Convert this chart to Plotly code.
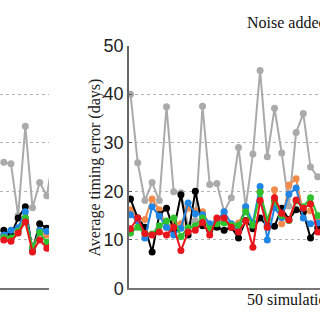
import plotly.graph_objects as go

# ---------------- data ----------------
left_sims = [43, 44, 45, 46, 47, 48, 49, 50]
left_gray = [26.0, 25.7, 15.0, 33.4, 16.6, 21.8, 19.1, 28.2]
left_black = [12.0, 11.0, 14.5, 16.8, 7.9, 13.3, 12.4, 12.7]
left_blue = [11.0, 12.0, 12.5, 15.8, 8.1, 12.0, 11.8, 11.0]
left_orange = [11.0, 10.5, 12.0, 14.5, 8.0, 11.5, 11.0, 11.5]
left_green = [10.5, 10.4, 11.8, 14.5, 8.5, 11.5, 9.5, 11.2]
left_red = [10.0, 9.7, 11.4, 13.7, 7.5, 10.0, 8.3, 10.6]

right_sims = list(range(1, 28))
right_gray = [40.0, 25.9, 18.1, 21.8, 18.1, 37.4, 19.9, 19.7, 13.0, 14.0, 37.5, 21.4, 21.6,
              15.8, 18.7, 29.0, 16.8, 27.7, 44.9, 27.1, 37.1, 27.9, 17.0, 32.1, 36.0, 25.0, 23.0]
right_black = [18.4, 14.5, 12.6, 7.5, 15.2, 16.5, 12.0, 19.3, 11.0, 20.0, 12.9, 12.0, 12.6,
               12.0, 12.6, 10.4, 14.0, 12.3, 14.5, 12.9, 12.8, 16.5, 14.2, 16.2, 15.8, 10.4, 12.5]
right_blue = [15.2, 13.9, 10.4, 16.8, 14.9, 12.6, 11.0, 12.4, 17.6, 15.4, 15.2, 13.3, 13.9,
              15.8, 13.3, 12.0, 16.8, 13.6, 21.0, 10.0, 16.6, 14.6, 19.4, 20.7, 14.5, 13.3, 13.5]
right_orange = [16.2, 14.5, 14.2, 18.4, 16.2, 12.6, 13.5, 13.3, 16.5, 16.0, 15.8, 13.0, 13.9,
                14.0, 13.0, 13.5, 16.2, 13.0, 20.0, 12.5, 20.3, 13.3, 21.3, 22.6, 15.5, 16.0, 14.0]
right_green = [11.4, 12.6, 11.3, 11.2, 12.9, 13.9, 14.5, 10.7, 12.5, 12.9, 14.5, 12.3, 13.3,
               13.5, 13.0, 13.0, 15.8, 13.0, 19.8, 14.2, 18.0, 15.0, 14.0, 18.0, 16.8, 18.7, 15.0]
right_red = [12.3, 14.5, 11.3, 11.0, 11.6, 11.0, 12.6, 7.8, 11.6, 12.0, 13.6, 11.0, 14.5,
             14.5, 12.6, 11.6, 13.9, 8.5, 18.1, 12.6, 18.7, 15.5, 14.1, 18.2, 16.5, 17.4, 11.6]

y_ticks = [0, 10, 20, 30, 40, 50]

colors = {
    "gray": "#aaaaaa",
    "orange": "#f28a4c",
    "black": "#000000",
    "blue": "#1f86e6",
    "green": "#2ec22e",
    "red": "#e8161c",
}

fig = go.Figure()

left_series = [("gray", left_gray), ("orange", left_orange), ("black", left_black),
               ("blue", left_blue), ("green", left_green), ("red", left_red)]
right_series = [("gray", right_gray), ("orange", right_orange), ("black", right_black),
                ("blue", right_blue), ("green", right_green), ("red", right_red)]

for name, vals in left_series:
    fig.add_trace(go.Scatter(x=left_sims, y=vals, mode="lines+markers",
                             line=dict(color=colors[name], width=2),
                             marker=dict(color=colors[name], size=7),
                             xaxis="x", yaxis="y", showlegend=False))
for name, vals in right_series:
    fig.add_trace(go.Scatter(x=right_sims, y=vals, mode="lines+markers",
                             line=dict(color=colors[name], width=2),
                             marker=dict(color=colors[name], size=7),
                             xaxis="x2", yaxis="y2", showlegend=False))

ydom = [23 / 320, 282 / 320]
grid = dict(showgrid=True, gridcolor="#b4b4b4", griddash="dot", gridwidth=1)

fig.update_layout(
    width=320, height=320,
    margin=dict(l=0, r=0, t=0, b=0),
    paper_bgcolor="white", plot_bgcolor="white",
    xaxis=dict(domain=[0, 49 / 320], range=[42.47, 49.3], showgrid=False, zeroline=False,
               showticklabels=False, ticks="", showline=True, linecolor="#777777", linewidth=1.5,
               anchor="y"),
    yaxis=dict(domain=ydom, range=[0, 50], tickvals=y_ticks, showticklabels=False, ticks="",
               zeroline=False, showline=False, anchor="x", **grid),
    xaxis2=dict(domain=[129 / 320, 1], range=[0.79, 27.32], showgrid=False, zeroline=False,
                showticklabels=False, ticks="", showline=True, linecolor="#777777", linewidth=1.5,
                anchor="y2"),
    yaxis2=dict(domain=ydom, range=[0, 50], tickvals=y_ticks, ticks="inside", ticklen=3,
                tickcolor="#555555", zeroline=False, showline=True, linecolor="#666666",
                linewidth=1.5, anchor="x2",
                tickfont=dict(family="Liberation Sans, Arial", size=18, color="#222222"),
                **grid),
    annotations=[
        dict(text="Average timing error (days)", textangle=-90, x=94 / 320, y=(320 - 168) / 320,
             xref="paper", yref="paper", showarrow=False, xanchor="center", yanchor="middle",
             font=dict(family="Liberation Serif, Times New Roman", size=16, color="#222222")),
        dict(text="Noise added", x=245 / 320, y=(320 - 13) / 320, xref="paper", yref="paper",
             showarrow=False, xanchor="left", yanchor="middle",
             font=dict(family="Liberation Serif, Times New Roman", size=16, color="#111111")),
        dict(text="50 simulations", x=245 / 320, y=(320 - 309) / 320, xref="paper", yref="paper",
             showarrow=False, xanchor="left", yanchor="middle",
             font=dict(family="Liberation Serif, Times New Roman", size=16, color="#111111")),
    ],
)

fig.write_html("out.html")
